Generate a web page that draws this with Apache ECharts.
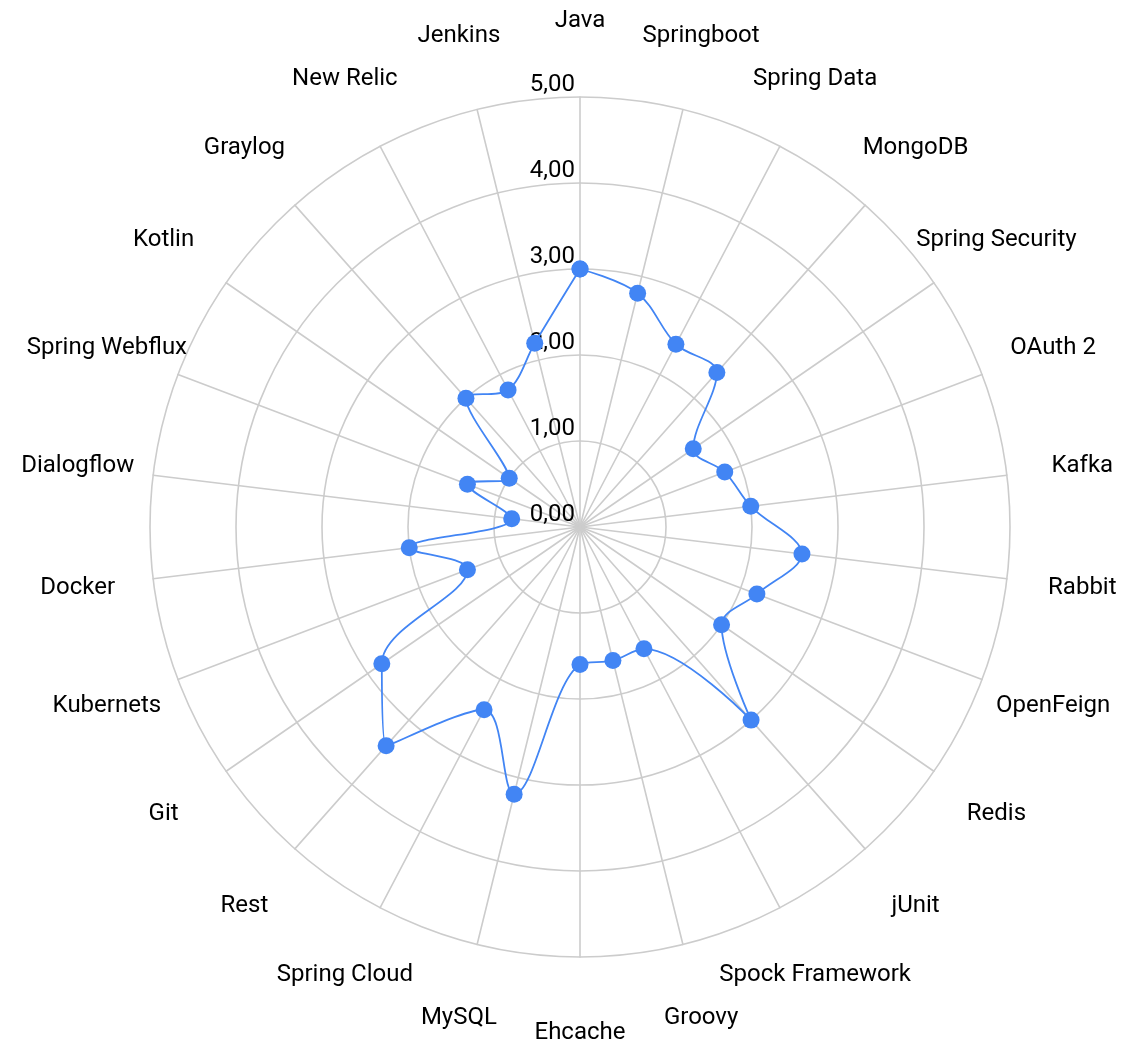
<!DOCTYPE html>
<html>
<head>
<meta charset="utf-8">
<title>Skills radar</title>
<script src="https://cdn.jsdelivr.net/npm/echarts@6/dist/echarts.min.js"></script>
<style>
  html, body { margin: 0; padding: 0; background: #fff; }
  #chart { width: 1140px; height: 1058px; }
</style>
</head>
<body>
<div id="chart"></div>
<script>
// skills, clockwise from the top
var skills = ['Java', 'Springboot', 'Spring Data', 'MongoDB', 'Spring Security', 'OAuth 2',
  'Kafka', 'Rabbit', 'OpenFeign', 'Redis', 'jUnit', 'Spock Framework', 'Groovy', 'Ehcache',
  'MySQL', 'Spring Cloud', 'Rest', 'Git', 'Kubernets', 'Docker', 'Dialogflow',
  'Spring Webflux', 'Kotlin', 'Graylog', 'New Relic', 'Jenkins']
var levels = [3.0, 2.8, 2.4, 2.4, 1.6, 1.8,
  2.0, 2.6, 2.2, 2.0, 3.0, 1.6, 1.6, 1.6,
  3.2, 2.4, 3.4, 2.8, 1.4, 2.0, 0.8,
  1.4, 1.0, 2.0, 1.8, 2.2]
var scaleMin = 0
var scaleMax = 5

var chart = echarts.init(document.getElementById('chart'))

// radar goes counter-clockwise, so flip everything after the first one
var order = [0].concat(skills.map(function (s, i) { return i }).slice(1).reverse())
var indicators = order.map(function (i) {
  return { name: skills[i], min: scaleMin, max: scaleMax }
})
indicators[0].axisLabel = {
  show: true,
  color: '#000',
  fontSize: 24,
  fontFamily: 'Roboto',
  margin: 5,
  verticalAlign: 'bottom',
  formatter: function (v) { return v.toFixed(2).replace('.', ',') }
}

// polar line closes back on the first point
var lineData = levels.map(function (v, i) { return [v, i] })
lineData.push([levels[0], skills.length])

var option = {
  animation: false,
  radar: {
    center: [580, 527],
    radius: 430,
    startAngle: 90,
    shape: 'circle',
    splitNumber: 5,
    nameGap: 76,
    indicator: indicators,
    axisName: {
      color: '#000',
      fontSize: 24,
      fontFamily: 'Roboto',
      align: 'center',
      verticalAlign: 'middle'
    },
    axisLine: { lineStyle: { color: '#cccccc', width: 1.6 } },
    splitLine: { lineStyle: { color: '#cccccc', width: 1.6 } },
    splitArea: { show: false },
    axisTick: { show: false },
    axisLabel: { show: false }
  },
  polar: {
    center: [580, 527],
    radius: 430
  },
  angleAxis: {
    type: 'value',
    min: 0,
    max: skills.length,
    startAngle: 90,
    clockwise: true,
    show: false
  },
  radiusAxis: {
    type: 'value',
    min: scaleMin,
    max: scaleMax,
    show: false
  },
  series: [
    {
      type: 'line',
      coordinateSystem: 'polar',
      data: lineData,
      smooth: 0.35,
      symbol: 'circle',
      symbolSize: 17,
      itemStyle: { color: '#4285f4' },
      lineStyle: { color: '#4285f4', width: 1.8 },
      z: 5
    }
  ]
}
chart.setOption(option)
</script>
</body>
</html>
